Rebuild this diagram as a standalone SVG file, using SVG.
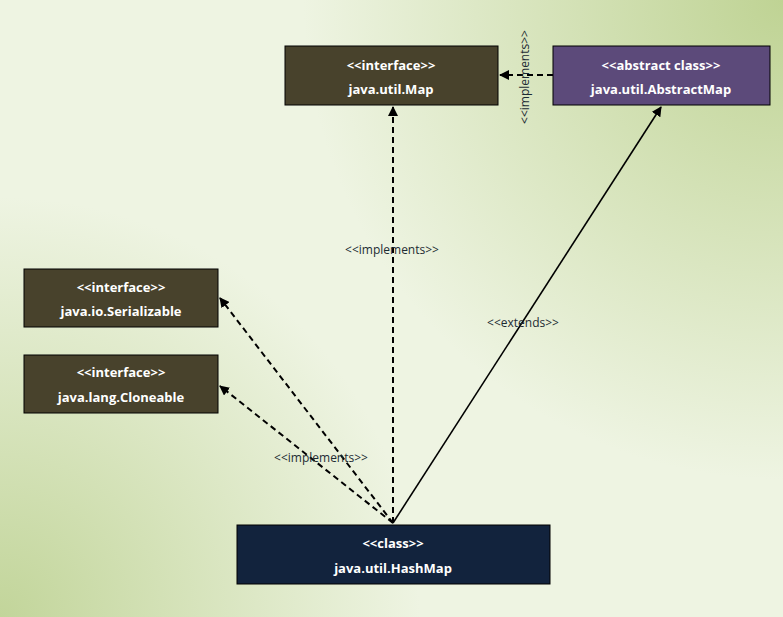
<svg xmlns="http://www.w3.org/2000/svg" width="783" height="617" viewBox="0 0 783 617">
<defs>
<linearGradient id="bg" x1="0" y1="0" x2="1" y2="1">
<stop offset="0" stop-color="#eef4e2"/><stop offset="1" stop-color="#eef4e2"/>
</linearGradient>
<radialGradient id="g1" cx="783" cy="0" r="480" gradientUnits="userSpaceOnUse">
<stop offset="0" stop-color="#bfd394"/><stop offset="1" stop-color="#bfd394" stop-opacity="0"/>
</radialGradient>
<radialGradient id="g2" cx="0" cy="617" r="420" gradientUnits="userSpaceOnUse">
<stop offset="0" stop-color="#c2d59a"/><stop offset="1" stop-color="#c2d59a" stop-opacity="0"/>
</radialGradient>
<marker id="ah" markerWidth="10" markerHeight="10" refX="9" refY="5" orient="auto" markerUnits="userSpaceOnUse">
<path d="M0,0 L10,5 L0,10 z" fill="#000"/>
</marker>
<style>
.n{stroke:#000;stroke-width:1}
.t{font-family:"Open Sans","Liberation Sans",sans-serif;font-weight:bold;font-size:13px;fill:#fff;text-anchor:middle}
.l{font-family:"Open Sans","Liberation Sans",sans-serif;font-size:12px;fill:#1d2b33;text-anchor:middle}
.d{stroke:#000;stroke-width:2;stroke-dasharray:6,4;fill:none}
.s{stroke:#000;stroke-width:1.6;fill:none}
</style>
</defs>
<rect width="783" height="617" fill="url(#bg)"/>
<rect width="783" height="617" fill="url(#g1)"/>
<rect width="783" height="617" fill="url(#g2)"/>
<g id="connectors">
<line class="d" x1="553" y1="75" x2="500" y2="75" marker-end="url(#ah)"/>
<line class="d" x1="393" y1="523" x2="393" y2="107" marker-end="url(#ah)"/>
<line class="s" x1="393" y1="523" x2="661" y2="107" marker-end="url(#ah)"/>
<line class="d" x1="393" y1="523" x2="220" y2="298" marker-end="url(#ah)"/>
<line class="d" x1="393" y1="523" x2="220" y2="386" marker-end="url(#ah)"/>
<text class="l" x="392" y="254">&lt;&lt;implements&gt;&gt;</text>
<text class="l" x="523" y="327">&lt;&lt;extends&gt;&gt;</text>
<text class="l" x="321" y="462">&lt;&lt;implements&gt;&gt;</text>
<text class="l" transform="translate(529,77) rotate(-90)">&lt;&lt;implements&gt;&gt;</text>
</g>
<g id="map"><rect class="n" x="285" y="46" width="213" height="59" fill="#48422c"/>
<text class="t" x="391" y="70">&lt;&lt;interface&gt;&gt;</text><text class="t" x="391" y="94">java.util.Map</text></g>
<g id="abstractmap"><rect class="n" x="553" y="46" width="217" height="59" fill="#5c4a7a"/>
<text class="t" x="661" y="70">&lt;&lt;abstract class&gt;&gt;</text><text class="t" x="661" y="94">java.util.AbstractMap</text></g>
<g id="serializable"><rect class="n" x="24" y="269" width="194" height="58" fill="#48422c"/>
<text class="t" x="121" y="292">&lt;&lt;interface&gt;&gt;</text><text class="t" x="121" y="316">java.io.Serializable</text></g>
<g id="cloneable"><rect class="n" x="24" y="355" width="194" height="58" fill="#48422c"/>
<text class="t" x="121" y="377">&lt;&lt;interface&gt;&gt;</text><text class="t" x="121" y="402">java.lang.Cloneable</text></g>
<g id="hashmap"><rect class="n" x="237" y="525" width="313" height="59" fill="#12233d"/>
<text class="t" x="393" y="548">&lt;&lt;class&gt;&gt;</text><text class="t" x="393" y="573">java.util.HashMap</text></g>
</svg>
